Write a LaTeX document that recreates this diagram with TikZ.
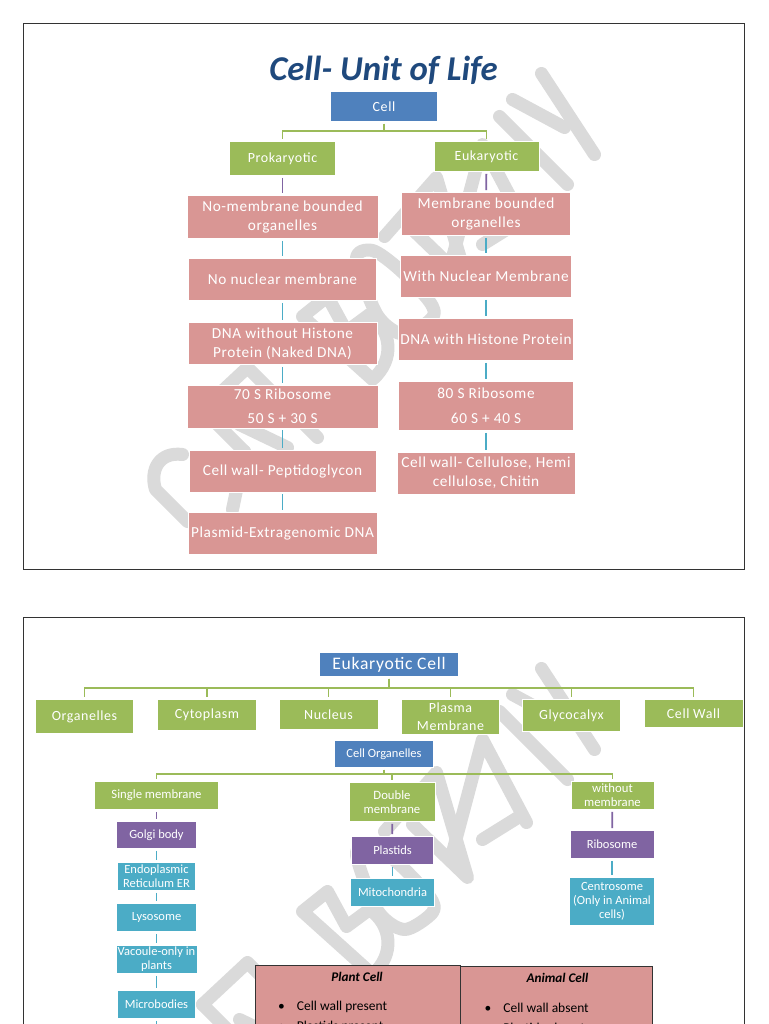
\documentclass[tikz,border=0pt]{standalone}
\usepackage{fontspec}
\setmainfont{Carlito}
\newfontfamily\wide[LetterSpace=4]{Carlito}
\definecolor{cellblue}{HTML}{4F81BD}
\definecolor{cellgreen}{HTML}{9BBB59}
\definecolor{cellpink}{HTML}{D99694}
\definecolor{cellpurple}{HTML}{8064A2}
\definecolor{cellteal}{HTML}{4BACC6}
\definecolor{celltitle}{HTML}{1F497D}
\definecolor{markgray}{HTML}{DADADA}
\tikzset{
    cellbox/.style={rectangle, draw=white, line width=0.6pt, inner sep=0pt, align=center, text=white},
    bluebox/.style={cellbox, fill=cellblue},
    greenbox/.style={cellbox, fill=cellgreen},
    pinkbox/.style={cellbox, fill=cellpink, font=\wide\fontsize{15.3}{19}\selectfont},
    purplebox/.style={cellbox, fill=cellpurple, font=\fontsize{12.5}{14}\selectfont},
    tealbox/.style={cellbox, fill=cellteal, font=\fontsize{12.5}{14}\selectfont},
    tablebox/.style={rectangle, draw=black!80, line width=0.8pt, fill=cellpink, inner sep=0pt},
    tabletext/.style={text=black, inner sep=0pt, font=\fontsize{13.5}{15}\selectfont},
    tablehead/.style={tabletext, font=\bfseries\itshape\fontsize{13.2}{15}\selectfont},
    greenlink/.style={draw=cellgreen, line width=1.8pt, shorten <=2pt, shorten >=2pt},
    purplelink/.style={draw=cellpurple, line width=1.8pt, shorten <=2pt, shorten >=2pt},
    teallink/.style={draw=cellteal, line width=1.8pt, shorten <=2pt, shorten >=2pt},
    markline/.style={draw=markgray, line width=13pt, line join=round, line cap=round},
}
% watermark strokes, same for both pages
\newcommand{\cellmark}{
    % Y
    \draw[markline] (542,74) -- (595,155);
    \draw[markline] (513,100) -- (565,128);
    % N
    \draw[markline] (500,117) -- (568,185);
    % A
    \draw[markline] (453,258) -- (483,145) -- (527,228);
    \draw[markline] (483,245) -- (520,222);
    % T
    \draw[markline] (385,237) -- (437,178) -- (468,283) -- (413,230);
    % O
    \draw[markline] plot [smooth cycle] coordinates {(357,260) (373,251) (400,270) (430,302) (433,318) (405,335) (378,316)};
    % B
    \draw[markline] (373,380) -- (303,317) -- (328,297) -- (347,332) -- (370,315) .. controls (392,330) and (396,360) .. (373,380);
    % M
    \draw[markline] (203,410) -- (248,368) -- (318,438);
    \draw[markline] (203,410) -- (245,452);
    \draw[markline] (240,425) -- (288,448);
    \draw[markline] (245,452) -- (233,510);
    % C
    \draw[markline] (183,455) .. controls (160,452) and (150,470) .. (156,490) -- (188,522);
}
\begin{document}
\begin{tikzpicture}[x=1pt, y=-1pt]
    \useasboundingbox (0.5,0.5) rectangle (768.5,1024.5);
    \clip (0.5,0.5) rectangle (768.5,1024.5);
    \fill[white] (0.5,0.5) rectangle (768.5,1024.5);

    %% Page one

    \draw[black!80, line width=1pt] (24,24) rectangle (745,570);
    \cellmark
    \node[text=celltitle, inner sep=0pt, font=\bfseries\itshape\fontsize{34.8}{40}\selectfont] (title) at (384,71) {Cell- Unit of Life};

    % Top of the tree
    \node[bluebox, minimum width=107pt, minimum height=30pt, font=\wide\fontsize{14}{17}\selectfont] (cell) at (384.5,107) {Cell};
    \node[greenbox, minimum width=106pt, minimum height=34pt, font=\wide\fontsize{14}{17}\selectfont] (prok) at (283,159) {Prokaryotic};
    \node[greenbox, minimum width=105pt, minimum height=30pt, font=\wide\fontsize{14}{17}\selectfont] (euk) at (487,157) {Eukaryotic};

    % Prokaryotic column
    \node[pinkbox, minimum width=191pt, minimum height=43pt] (nomemb) at (283,217.5) {No-membrane bounded\\organelles};
    \node[pinkbox, minimum width=188pt, minimum height=42pt] (nonucl) at (283,280) {No nuclear membrane};
    \node[pinkbox, minimum width=189pt, minimum height=42pt] (nohist) at (283,344) {DNA without Histone\\Protein (Naked DNA)};
    \node[pinkbox, minimum width=191pt, minimum height=43pt, font=\wide\fontsize{15.3}{24}\selectfont] (ribseventy) at (283,407) {70 S Ribosome\\50 S + 30 S};
    \node[pinkbox, minimum width=187pt, minimum height=42pt] (wallpep) at (283,471.5) {Cell wall- Peptidoglycon};
    \node[pinkbox, minimum width=189pt, minimum height=42pt] (plasmid) at (283,534) {Plasmid-Extragenomic DNA};

    % Eukaryotic column
    \node[pinkbox, minimum width=169pt, minimum height=43pt] (memb) at (486.5,214.5) {Membrane bounded\\organelles};
    \node[pinkbox, minimum width=171pt, minimum height=42pt] (nucl) at (486.5,277) {With Nuclear Membrane};
    \node[pinkbox, minimum width=175pt, minimum height=42pt] (hist) at (486.5,340) {DNA with Histone Protein};
    \node[pinkbox, minimum width=175pt, minimum height=49pt, font=\wide\fontsize{15.3}{25}\selectfont] (ribeighty) at (486.5,406.5) {80 S Ribosome\\60 S + 40 S};
    \node[pinkbox, minimum width=178pt, minimum height=42pt] (wallcel) at (486.5,473.5) {Cell wall- Cellulose, Hemi\\cellulose, Chitin};

    \draw[greenlink] (cell.south) -- ++(0,9) -| (prok.north);
    \draw[greenlink] (cell.south) -- ++(0,9) -| (euk.north);
    \draw[purplelink] (prok) -- (nomemb);
    \draw[purplelink] (euk) -- (memb);
    \draw[teallink] (nomemb) -- (nonucl);
    \draw[teallink] (nonucl) -- (nohist);
    \draw[teallink] (nohist) -- (ribseventy);
    \draw[teallink] (ribseventy) -- (wallpep);
    \draw[teallink] (wallpep) -- (plasmid);
    \draw[teallink] (memb) -- (nucl);
    \draw[teallink] (nucl) -- (hist);
    \draw[teallink] (hist) -- (ribeighty);
    \draw[teallink] (ribeighty) -- (wallcel);

    %% Page two

    \draw[black!80, line width=1pt] (24,618) rectangle (745,1040);
    \begin{scope}[shift={(0,595)}]
        \cellmark
    \end{scope}

    \tikzset{rowbox/.style={greenbox, font=\wide\fontsize{14}{18}\selectfont},
             subbox/.style={greenbox, font=\fontsize{12.7}{14}\selectfont}}

    % First row
    \node[bluebox, minimum width=139pt, minimum height=24pt, font=\wide\fontsize{17.6}{20}\selectfont] (eukcell) at (389.5,665) {Eukaryotic Cell};
    \node[rowbox, minimum width=98pt, minimum height=34pt] (organ) at (85,717) {Organelles};
    \node[rowbox, minimum width=99pt, minimum height=31pt] (cyto) at (207.5,715.5) {Cytoplasm};
    \node[rowbox, minimum width=99pt, minimum height=30pt] (nucleus) at (329,715) {Nucleus};
    \node[rowbox, minimum width=98pt, minimum height=35pt] (plasma) at (451,717.5) {Plasma\\Membrane};
    \node[rowbox, minimum width=98pt, minimum height=32pt] (glyco) at (572,716) {Glycocalyx};
    \node[rowbox, minimum width=99pt, minimum height=28pt] (wall) at (694,714) {Cell Wall};

    \draw[greenlink] (eukcell.south) -- ++(0,11.5) -| (organ.north);
    \draw[greenlink] (eukcell.south) -- ++(0,11.5) -| (cyto.north);
    \draw[greenlink] (eukcell.south) -- ++(0,11.5) -| (nucleus.north);
    \draw[greenlink] (eukcell.south) -- ++(0,11.5) -| (plasma.north);
    \draw[greenlink] (eukcell.south) -- ++(0,11.5) -| (glyco.north);
    \draw[greenlink] (eukcell.south) -- ++(0,11.5) -| (wall.north);

    % Organelles
    \node[bluebox, minimum width=99pt, minimum height=27pt, font=\fontsize{12.5}{14}\selectfont] (cellorg) at (384.5,754.5) {Cell Organelles};
    \node[subbox, minimum width=124pt, minimum height=28pt] (single) at (157,796) {Single membrane};
    \node[subbox, minimum width=86pt, minimum height=39pt] (double) at (392.5,802.5) {Double\\membrane};
    \node[subbox, minimum width=83pt, minimum height=28pt] (without) at (613,796) {without\\membrane};

    \draw[greenlink] (cellorg.south) -- ++(0,6.5) -| (single.north);
    \draw[greenlink] (cellorg.south) -- ++(0,6.5) -| (double.north);
    \draw[greenlink] (cellorg.south) -- ++(0,6.5) -| (without.north);

    % Single membrane
    \node[purplebox, minimum width=80pt, minimum height=27pt] (golgi) at (157,835.5) {Golgi body};
    \node[tealbox, minimum width=78pt, minimum height=28pt] (er) at (157,877) {Endoplasmic\\Reticulum ER};
    \node[tealbox, minimum width=80pt, minimum height=28pt] (lyso) at (157,918) {Lysosome};
    \node[tealbox, minimum width=81pt, minimum height=28pt] (vacuole) at (157,960) {Vacoule-only in\\plants};
    \node[tealbox, minimum width=78pt, minimum height=28pt] (micro) at (157,1005) {Microbodies};
    \coordinate (microend) at (157,1032);

    \draw[purplelink] (single) -- (golgi);
    \draw[teallink] (golgi) -- (er);
    \draw[teallink] (er) -- (lyso);
    \draw[teallink] (lyso) -- (vacuole);
    \draw[teallink] (vacuole) -- (micro);
    \draw[teallink] (micro) -- (microend);

    % Double membrane
    \node[purplebox, minimum width=82pt, minimum height=28pt] (plastids) at (393,851) {Plastids};
    \node[tealbox, minimum width=84pt, minimum height=28pt] (mito) at (393,892.5) {Mitochondria};
    \draw[purplelink] (double) -- (plastids);
    \draw[teallink] (plastids) -- (mito);

    % Without membrane
    \node[purplebox, minimum width=84pt, minimum height=28pt] (ribo) at (612.5,845) {Ribosome};
    \node[tealbox, minimum width=85pt, minimum height=48pt] (centro) at (612.5,902) {Centrosome\\(Only in Animal\\cells)};
    \draw[purplelink] (without) -- (ribo);
    \draw[teallink] (ribo) -- (centro);

    % Plant and animal table
    \node[tablebox, minimum width=205pt, minimum height=90pt, anchor=north west] (plant) at (255,965) {};
    \node[tablebox, minimum width=192pt, minimum height=90pt, anchor=north west] (animal) at (460.5,966) {};
    \node[tablehead] (planthead) at (357.5,977.5) {Plant Cell};
    \node[tablehead] (animalhead) at (558,978.5) {Animal Cell};
    \node[tabletext, anchor=west] (plantone) at (278.5,1007) {•\hspace{12pt}Cell wall present};
    \node[tabletext, anchor=west] (planttwo) at (278.5,1027) {•\hspace{12pt}Plastids present};
    \node[tabletext, anchor=west] (animalone) at (485,1008) {•\hspace{12pt}Cell wall absent};
    \node[tabletext, anchor=west] (animaltwo) at (485,1028) {•\hspace{12pt}Plastids absent};

\end{tikzpicture}
\end{document}
